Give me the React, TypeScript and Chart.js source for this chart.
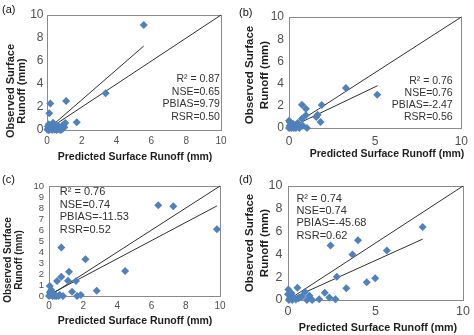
import React, { useEffect, useRef } from 'react';
import { Chart, registerables } from 'chart.js';

Chart.register(...registerables);

const FONT = '"Liberation Sans", Arial, sans-serif';
const POINT_COLOR = '#4F81BD';
const LINE_COLOR = '#303030';
const FRAME_COLOR = '#8a8a8a';
const TICK_COLOR = '#505050';
const TITLE_COLOR = '#1e1e1e';
const STAT_COLOR = '#333333';

const X_TITLE = 'Predicted Surface Runoff (mm)';
const Y_TITLE = ['Observed Surface', 'Runoff (mm)'];

// 1:1 line
const ONE_X = [0, 10];
const ONE_Y = [0, 10];

// ---------- Panel (a) ----------
const A_PRED = [5.56, 3.37, 1.1, 0.19, 0.13, 1.71, 0.02, 0.05, 0.08, 0.12, 0.15, 0.2, 0.25, 0.3, 0.35, 0.38, 0.45, 0.5, 0.55, 0.6, 0.65, 0.7, 0.75, 0.8, 0.85, 0.9, 0.95, 1.0, 1.05, 0.1, 0.45];
const A_OBS = [9.13, 3.2, 2.52, 2.3, 1.45, 0.68, 0.05, 0.3, 0.0, 0.15, 0.02, 0.35, 0.1, 0.0, 0.62, 0.2, 0.05, 0.3, 0.0, 0.15, 0.35, 0.05, 0.2, 0.0, 0.3, 0.1, 0.45, 0.25, 0.6, 0.5, 0.4];
const A_TREND_X = [0, 5.56];
const A_TREND_Y = [0, 7.3];
const A_STATS = ['R\u00B2 = 0.87', 'NSE=0.65', 'PBIAS=9.79', 'RSR=0.50'];
const A_X_TICKS = [0, 2, 4, 6, 8, 10];
const A_Y_TICKS = [0, 2, 4, 6, 8, 10];

// ---------- Panel (b) ----------
const B_PRED = [3.3, 5.12, 0.75, 1.9, 0.98, 0.98, 1.66, 1.58, 1.83, 0.75, 1.04, 0.8, 0.0, 0.05, 0.1, 0.04, 0.15, 0.2, 0.28, 0.13, 0.35, 0.47, 0.56, 0.6, 0.0, 0.05, 0.25, 0.4, 0.5];
const B_OBS = [3.6, 3.0, 2.1, 2.07, 1.74, 1.14, 1.2, 1.0, 0.54, 0.84, 0.0, 0.2, 0.66, 0.55, 0.45, 0.2, 0.3, 0.1, 0.0, 0.0, 0.15, 0.3, 0.1, 0.0, 0.0, 0.05, 0.35, 0.0, 0.45];
const B_TREND_X = [0, 5.14];
const B_TREND_Y = [0, 3.81];
const B_STATS = ['R\u00B2 = 0.76', 'NSE=0.76', 'PBIAS=-2.47', 'RSR=0.56'];
const B_X_TICKS = [0, 5, 10];
const B_Y_TICKS = [0, 2, 4, 6, 8, 10];

// ---------- Panel (c) ----------
const C_PRED = [6.39, 7.27, 9.82, 0.72, 2.13, 4.45, 1.17, 0.72, 0.47, 1.11, 1.58, 1.35, 2.79, 0.04, 1.86, 1.64, 0.82, 0.14, 0.05, 0.1, 0.2, 0.3, 0.43, 0.63, 0.0, 0.08, 0.25, 0.55, 0.35];
const C_OBS = [8.25, 8.16, 6.07, 4.41, 3.35, 2.27, 2.2, 1.75, 1.36, 1.39, 1.36, 0.39, 0.48, 0.9, 0.09, 0.0, 0.0, 0.54, 0.3, 0.1, 0.0, 0.05, 0.0, 0.1, 0.0, 0.4, 0.2, 0.0, 0.0];
const C_TREND_X = [0, 9.82];
const C_TREND_Y = [0.1, 8.19];
const C_STATS = ['R\u00B2 = 0.76', 'NSE=0.74', 'PBIAS=-11.53', 'RSR=0.52'];
const C_X_TICKS = [0, 2, 4, 6, 8, 10];
const C_Y_TICKS = [0, 1, 2, 3, 4, 5, 6, 7, 8, 9, 10];

// ---------- Panel (d) ----------
const D_PRED = [7.69, 4.0, 2.43, 3.68, 5.65, 2.79, 4.98, 4.5, 3.33, 2.1, 0.54, 0.02, 2.36, 2.71, 1.78, 1.23, 1.38, 1.08, 0.97, 0.15, 0.33, 0.61, 0.05, 0.24, 0.1, 0.45, 0.8, 0.0, 0.2];
const D_OBS = [6.41, 5.25, 4.78, 3.99, 4.34, 2.04, 1.9, 1.55, 1.02, 0.64, 1.08, 0.93, 0.23, 0.06, 0.06, 0.38, 0.0, 0.0, 0.7, 0.44, 0.2, 0.15, 0.0, 0.0, 0.15, 0.05, 0.3, 0.5, 0.6];
const D_TREND_X = [0, 7.69];
const D_TREND_Y = [0, 5.34];
const D_STATS = ['R\u00B2 = 0.74', 'NSE=0.74', 'PBIAS=-45.68', 'RSR=0.62'];
const D_X_TICKS = [0, 5, 10];
const D_Y_TICKS = [0, 2, 4, 6, 8, 10];

const pts = (xs: number[], ys: number[]) => xs.map((x, i) => ({ x, y: ys[i] }));

type PanelCfg = {
  label: string;
  pred: number[];
  obs: number[];
  trendX: number[];
  trendY: number[];
  stats: string[];
  xTicks: number[];
  yTicks: number[];
  left: number;
  top: number;
  width: number;
  height: number;
  yW: number;
  xH: number;
  padR: number;
  padT: number;
  xTickSize: number;
  yTickSize: number;
  xTickPad: number;
  yTickPad: number;
  labelY: number;
  yTitleSize: number;
  yTitleX: number[];
  yTitleY: number;
  xTitleSize: number;
  xTitleX: number;
  xTitleY: number;
  statSize: number;
  statX: number;
  statY: number;
  statAlign: 'left' | 'right';
  statGap: number;
};

const PANELS: PanelCfg[] = [
  {
    label: '(a)', pred: A_PRED, obs: A_OBS, trendX: A_TREND_X, trendY: A_TREND_Y, stats: A_STATS,
    xTicks: A_X_TICKS, yTicks: A_Y_TICKS,
    left: 0, top: 0, width: 237, height: 167,
    yW: 47, xH: 37, padR: 16, padT: 15,
    xTickSize: 10, yTickSize: 12, xTickPad: 5, yTickPad: 3.5,
    labelY: 10,
    yTitleSize: 11, yTitleX: [11, 22], yTitleY: 91,
    xTitleSize: 10.5, xTitleX: 135, xTitleY: 157,
    statSize: 10.5, statX: 9.94, statY: 4.39, statAlign: 'right', statGap: 12.4,
  },
  {
    label: '(b)', pred: B_PRED, obs: B_OBS, trendX: B_TREND_X, trendY: B_TREND_Y, stats: B_STATS,
    xTicks: B_X_TICKS, yTicks: B_Y_TICKS,
    left: 237, top: 0, width: 237, height: 167,
    yW: 52, xH: 39, padR: 8, padT: 17,
    xTickSize: 12, yTickSize: 12, xTickPad: 6, yTickPad: 5,
    labelY: 13,
    yTitleSize: 11.5, yTitleX: [13, 27.5], yTitleY: 75,
    xTitleSize: 10.5, xTitleX: 150, xTitleY: 154,
    statSize: 10.5, statX: 9.5, statY: 4.26, statAlign: 'right', statGap: 12.2,
  },
  {
    label: '(c)', pred: C_PRED, obs: C_OBS, trendX: C_TREND_X, trendY: C_TREND_Y, stats: C_STATS,
    xTicks: C_X_TICKS, yTicks: C_Y_TICKS,
    left: 0, top: 167, width: 237, height: 168,
    yW: 49, xH: 39, padR: 17, padT: 19,
    xTickSize: 10, yTickSize: 9.5, xTickPad: 4.5, yTickPad: 5,
    labelY: 13,
    yTitleSize: 10, yTitleX: [8, 19], yTitleY: 93,
    xTitleSize: 10.5, xTitleX: 135, xTitleY: 154,
    statSize: 11, statX: 0.63, statY: 9.46, statAlign: 'left', statGap: 12.7,
  },
  {
    label: '(d)', pred: D_PRED, obs: D_OBS, trendX: D_TREND_X, trendY: D_TREND_Y, stats: D_STATS,
    xTicks: D_X_TICKS, yTicks: D_Y_TICKS,
    left: 237, top: 167, width: 237, height: 168,
    yW: 51, xH: 35, padR: 7, padT: 19,
    xTickSize: 12.5, yTickSize: 12.5, xTickPad: 4, yTickPad: 5.5,
    labelY: 13,
    yTitleSize: 11.5, yTitleX: [13, 28], yTitleY: 76,
    xTitleSize: 10.75, xTitleX: 141, xTitleY: 161,
    statSize: 11, statX: 0.48, statY: 8.9, statAlign: 'left', statGap: 12.4,
  },
];

function Panel({ cfg }: { cfg: PanelCfg }) {
  const ref = useRef<HTMLCanvasElement>(null);

  useEffect(() => {
    if (!ref.current) return;

    const framePlugin = {
      id: 'frame',
      beforeDatasetsDraw(chart: any) {
        const { ctx, chartArea: a } = chart;
        ctx.save();
        ctx.strokeStyle = FRAME_COLOR;
        ctx.lineWidth = 1;
        const l = Math.round(a.left) + 0.5;
        const t = Math.round(a.top) + 0.5;
        const r = Math.round(a.right) + 0.5;
        const b = Math.round(a.bottom) + 0.5;
        ctx.strokeRect(l, t, r - l, b - t);
        ctx.restore();
      },
    };

    const textPlugin = {
      id: 'panelText',
      afterDraw(chart: any) {
        const { ctx } = chart;
        const xs = chart.scales.x;
        const ys = chart.scales.y;
        ctx.save();
        ctx.textBaseline = 'middle';
        // panel label
        ctx.fillStyle = '#111';
        ctx.font = `11px ${FONT}`;
        ctx.textAlign = 'left';
        ctx.fillText(cfg.label, 2, cfg.labelY);
        // y title (two rotated lines)
        ctx.fillStyle = TITLE_COLOR;
        ctx.font = `bold ${cfg.yTitleSize}px ${FONT}`;
        ctx.textAlign = 'center';
        Y_TITLE.forEach((line, i) => {
          ctx.save();
          ctx.translate(cfg.yTitleX[i], cfg.yTitleY);
          ctx.rotate(-Math.PI / 2);
          ctx.fillText(line, 0, 0);
          ctx.restore();
        });
        // x title
        ctx.font = `bold ${cfg.xTitleSize}px ${FONT}`;
        ctx.fillText(X_TITLE, cfg.xTitleX, cfg.xTitleY);
        // statistics
        ctx.fillStyle = STAT_COLOR;
        ctx.font = `${cfg.statSize}px ${FONT}`;
        ctx.textAlign = cfg.statAlign;
        const sx = xs.getPixelForValue(cfg.statX);
        const sy = ys.getPixelForValue(cfg.statY);
        cfg.stats.forEach((s, i) => ctx.fillText(s, sx, sy + i * cfg.statGap));
        ctx.restore();
      },
    };

    const chart = new Chart(ref.current, {
      type: 'scatter',
      data: {
        datasets: [
          {
            data: pts(cfg.pred, cfg.obs),
            pointStyle: 'rectRot',
            pointRadius: 4,
            pointHoverRadius: 4,
            backgroundColor: POINT_COLOR,
            borderColor: POINT_COLOR,
            borderWidth: 0,
            clip: false as any,
          },
          {
            data: pts(ONE_X, ONE_Y),
            showLine: true,
            pointRadius: 0,
            borderColor: LINE_COLOR,
            borderWidth: 1,
            clip: false as any,
          },
          {
            data: pts(cfg.trendX, cfg.trendY),
            showLine: true,
            pointRadius: 0,
            borderColor: LINE_COLOR,
            borderWidth: 1,
            clip: false as any,
          },
        ],
      },
      options: {
        responsive: false,
        animation: false,
        devicePixelRatio: 1,
        layout: {
          autoPadding: false,
          padding: { left: 0, right: cfg.padR, top: cfg.padT, bottom: 0 },
        },
        plugins: {
          legend: { display: false },
          tooltip: { enabled: false },
        },
        events: [],
        scales: {
          x: {
            type: 'linear',
            min: 0,
            max: 10,
            grid: { display: false, drawTicks: false },
            border: { display: false },
            afterBuildTicks: (s: any) => {
              s.ticks = cfg.xTicks.map((v) => ({ value: v }));
            },
            afterFit: (s: any) => {
              s.height = cfg.xH;
            },
            ticks: {
              color: TICK_COLOR,
              font: { family: FONT, size: cfg.xTickSize },
              padding: cfg.xTickPad,
              maxRotation: 0,
              autoSkip: false,
            },
          },
          y: {
            type: 'linear',
            min: 0,
            max: 10,
            grid: { display: false, drawTicks: false },
            border: { display: false },
            afterBuildTicks: (s: any) => {
              s.ticks = cfg.yTicks.map((v) => ({ value: v }));
            },
            afterFit: (s: any) => {
              s.width = cfg.yW;
            },
            ticks: {
              color: TICK_COLOR,
              font: { family: FONT, size: cfg.yTickSize },
              padding: cfg.yTickPad,
              autoSkip: false,
            },
          },
        },
      } as any,
      plugins: [framePlugin, textPlugin],
    });

    return () => chart.destroy();
  }, [cfg]);

  return (
    <canvas
      ref={ref}
      width={cfg.width}
      height={cfg.height}
      style={{ position: 'absolute', left: cfg.left, top: cfg.top, width: cfg.width, height: cfg.height }}
    />
  );
}

export default function App() {
  return (
    <div style={{ position: 'fixed', left: 0, top: 0, width: 474, height: 335, background: '#fff' }}>
      {PANELS.map((p) => (
        <Panel key={p.label} cfg={p} />
      ))}
    </div>
  );
}
